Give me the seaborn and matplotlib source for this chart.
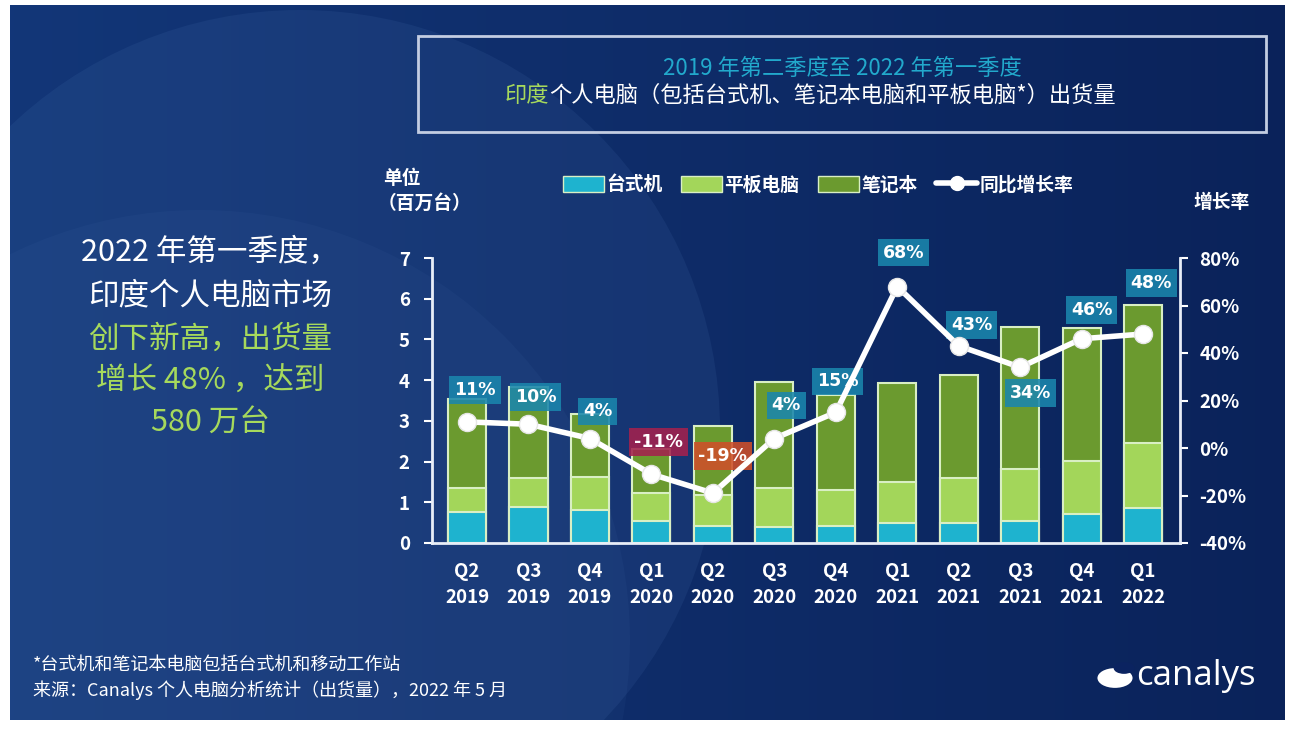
import numpy as np
import pandas as pd
import matplotlib
matplotlib.use("Agg")
import matplotlib.pyplot as plt
import seaborn as sns
from matplotlib.patches import Rectangle, Circle, Patch
from matplotlib.lines import Line2D

# ---------------- data ----------------
quarters = ["Q2", "Q3", "Q4", "Q1", "Q2", "Q3", "Q4", "Q1", "Q2", "Q3", "Q4", "Q1"]
years = ["2019", "2019", "2019", "2020", "2020", "2020", "2020", "2021", "2021", "2021", "2021", "2022"]
desktop = [0.77, 0.89, 0.81, 0.54, 0.42, 0.40, 0.42, 0.50, 0.50, 0.55, 0.71, 0.87]
tablet = [0.57, 0.70, 0.80, 0.68, 0.76, 0.94, 0.88, 1.01, 1.10, 1.26, 1.30, 1.59]
notebook = [2.19, 2.25, 1.56, 1.08, 1.70, 2.62, 2.34, 2.43, 2.53, 3.49, 3.27, 3.39]
growth = [11, 10, 4, -11, -19, 4, 15, 68, 43, 34, 46, 48]
left_ticks = [0, 1, 2, 3, 4, 5, 6, 7]
right_ticks = [-40, -20, 0, 20, 40, 60, 80]

labels_x = [f"{q}\n{y}" for q, y in zip(quarters, years)]
df = pd.DataFrame({"q": labels_x, "desktop": desktop, "tablet": tablet, "notebook": notebook, "growth": growth})
df["d_t"] = df["desktop"] + df["tablet"]
df["total"] = df["d_t"] + df["notebook"]

# ---------------- style ----------------
sns.set_style("dark")
plt.rcParams["font.family"] = ["Noto Sans CJK SC", "DejaVu Sans"]

C_DESK = "#1eb3cf"
C_TAB = "#a3d65a"
C_NOTE = "#6b9a2f"
C_EDGE = "#d9efc4"
GREEN_TXT = "#a6d95c"
CYAN_TXT = "#22a9cc"

W, H = 1300, 732
fig = plt.figure(figsize=(13, 7.32), dpi=100, facecolor="white")

# background panel (pixel coordinates)
X0, X1, Y0, Y1 = 10, 1285, 5, 720
bg = fig.add_axes([X0 / W, 1 - Y1 / H, (X1 - X0) / W, (Y1 - Y0) / H], zorder=-10)
gy, gx = np.mgrid[0:1:200j, 0:1:300j]
grad = np.clip(0.6 * gx + 0.2 * (1 - gy) + 0.2 * gy, 0, 1)
c0 = np.array([0x15, 0x3d, 0x82]) / 255
c1 = np.array([0x08, 0x1c, 0x50]) / 255
img = c0[None, None, :] * (1 - grad[..., None]) + c1[None, None, :] * grad[..., None]
bg.imshow(img, extent=[X0, X1, Y1, Y0], aspect="auto")
bg.add_patch(Circle((300, 430), 420, color="#6a9ad8", alpha=0.09, lw=0))
bg.add_patch(Circle((200, 640), 430, color="#6a9ad8", alpha=0.05, lw=0))
bg.set_xlim(X0, X1); bg.set_ylim(Y1, Y0)
bg.axis("off")

# main axes
ax = fig.add_axes([432 / W, 1 - 543 / H, (1180 - 432) / W, (543 - 258) / H])
ax.set_facecolor("none")

sns.barplot(data=df, x="q", y="total", color=C_NOTE, width=0.62, ax=ax,
            edgecolor=C_EDGE, linewidth=1.5, saturation=1)
sns.barplot(data=df, x="q", y="d_t", color=C_TAB, width=0.62, ax=ax,
            edgecolor=C_EDGE, linewidth=1.5, saturation=1)
sns.barplot(data=df, x="q", y="desktop", color=C_DESK, width=0.62, ax=ax,
            edgecolor=C_EDGE, linewidth=1.5, saturation=1)

ax.set_xlim(-0.57, 11.6)
ax.set_ylim(0, 7)
ax.set_yticks(left_ticks)
ax.set_yticklabels([str(t) for t in left_ticks])
ax.set_xlabel(""); ax.set_ylabel("")
ax.grid(False)
for s in ["top", "right"]:
    ax.spines[s].set_visible(False)
for s in ["left", "bottom"]:
    ax.spines[s].set_visible(True)
    ax.spines[s].set_color("#e8eef8")
    ax.spines[s].set_linewidth(2)
ax.tick_params(axis="y", colors="white", labelsize=13.5, length=6, width=1.5, pad=10, left=True)
ax.tick_params(axis="x", colors="white", labelsize=13.5, length=0, pad=14)
for t in ax.get_xticklabels() + ax.get_yticklabels():
    t.set_fontweight("bold")
for t in ax.get_xticklabels():
    t.set_linespacing(1.45)

# growth axis
ax2 = ax.twinx()
ax2.set_facecolor("none")
sns.lineplot(x=np.arange(len(growth)), y=growth, ax=ax2, color="white", lw=4,
             marker="o", markersize=13, markeredgecolor="#e6e6e6", markeredgewidth=1, zorder=5)
ax2.set_ylim(-40, 80)
ax2.set_yticks(right_ticks)
ax2.set_yticklabels([f"{t}%" for t in right_ticks])
ax2.grid(False)
for s in ["top", "left", "bottom"]:
    ax2.spines[s].set_visible(False)
ax2.spines["right"].set_visible(True)
ax2.spines["right"].set_color("#e8eef8")
ax2.spines["right"].set_linewidth(2)
ax2.tick_params(axis="y", colors="white", labelsize=13.5, length=6, width=1.5, pad=8, right=True)
for t in ax2.get_yticklabels():
    t.set_fontweight("bold")
ax2.set_ylabel("")

# growth labels
label_offsets = [(8, 32), (7, 27), (8, 27), (7, 32), (10, 37), (12, 33),
                 (2, 31), (6, 34), (13, 21), (10, -26), (10, 29), (8, 51)]
for i, g in enumerate(growth):
    if g == -11:
        fc = "#a3214e"
    elif g == -19:
        fc = "#cf4f2a"
    else:
        fc = "#1a86ad"
    dx, dy = label_offsets[i]
    ax2.annotate(f"{g}%", (i, g), xytext=(dx, dy), textcoords="offset pixels",
                 ha="center", va="center", color="white", fontsize=12.5, fontweight="bold",
                 family=["DejaVu Sans"], zorder=3,
                 bbox=dict(boxstyle="square,pad=0.28", fc=fc, ec="none", alpha=0.88))

# legend
handles = [Patch(fc=C_DESK, ec=C_EDGE, lw=1), Patch(fc=C_TAB, ec=C_EDGE, lw=1),
           Patch(fc=C_NOTE, ec=C_EDGE, lw=1),
           Line2D([0], [0], color="white", lw=4, marker="o", markersize=10)]
leg = fig.legend(handles, ["台式机", "平板电脑", "笔记本", "同比增长率"], ncol=4,
                 loc="center", bbox_to_anchor=(818 / W, 1 - 185 / H), frameon=False,
                 handlelength=2.2, handleheight=1.0, handletextpad=0.1, columnspacing=1.0,
                 prop={"size": 13.5, "weight": "bold"})
for t in leg.get_texts():
    t.set_color("white")

# axis unit labels
fig.text(383 / W, 1 - 178 / H, "单位", color="white", fontsize=13.5, fontweight="bold", ha="left", va="center")
fig.text(378 / W, 1 - 203 / H, "（百万台）", color="white", fontsize=13.5, fontweight="bold", ha="left", va="center")
fig.text(1222 / W, 1 - 203 / H, "增长率", color="white", fontsize=13.5, fontweight="bold", ha="center", va="center")

# title box
fig.add_artist(Rectangle((418 / W, 1 - 132 / H), (1266 - 418) / W, (132 - 36) / H,
                         transform=fig.transFigure, fill=False, ec="#c3cde2", lw=2))
fig.text(842 / W, 1 - 68 / H, "2019 年第二季度至 2022 年第一季度", color=CYAN_TXT,
         fontsize=16, ha="center", va="center")
fig.text(549 / W, 1 - 95 / H, "印度", color=GREEN_TXT, fontsize=16, ha="right", va="center")
fig.text(549 / W, 1 - 95 / H, "个人电脑（包括台式机、笔记本电脑和平板电脑*）出货量", color="white",
         fontsize=16, ha="left", va="center")

# left highlight text
left_lines = [("2022 年第一季度，", "white"), ("印度个人电脑市场", "white"),
              ("创下新高，出货量", GREEN_TXT), ("增长 48% ，达到", GREEN_TXT), ("580 万台", GREEN_TXT)]
ys = [252, 296, 339, 381, 423]
for (txt, col), yy in zip(left_lines, ys):
    fig.text(210 / W, 1 - yy / H, txt, color=col, fontsize=22,
             ha="center", va="center")

# footer
fig.text(33 / W, 1 - 665 / H, "*台式机和笔记本电脑包括台式机和移动工作站", color="white", fontsize=13,
         ha="left", va="center")
fig.text(33 / W, 1 - 690 / H, "来源：Canalys 个人电脑分析统计（出货量），2022 年 5 月", color="white",
         fontsize=13, ha="left", va="center")

# canalys logo
fig.add_artist(Circle((1115 / W, 1 - 678 / H), 0.0135, transform=fig.transFigure, color="white", lw=0))
fig.add_artist(Circle((1124 / W, 1 - 668 / H), 0.008, transform=fig.transFigure, color="#0b2360", lw=0))
fig.text(1136 / W, 1 - 676 / H, "canalys", color="white", fontsize=25, ha="left", va="center",
         family=["Open Sans", "DejaVu Sans"])

fig.savefig("out.png", dpi=100, facecolor="white")
